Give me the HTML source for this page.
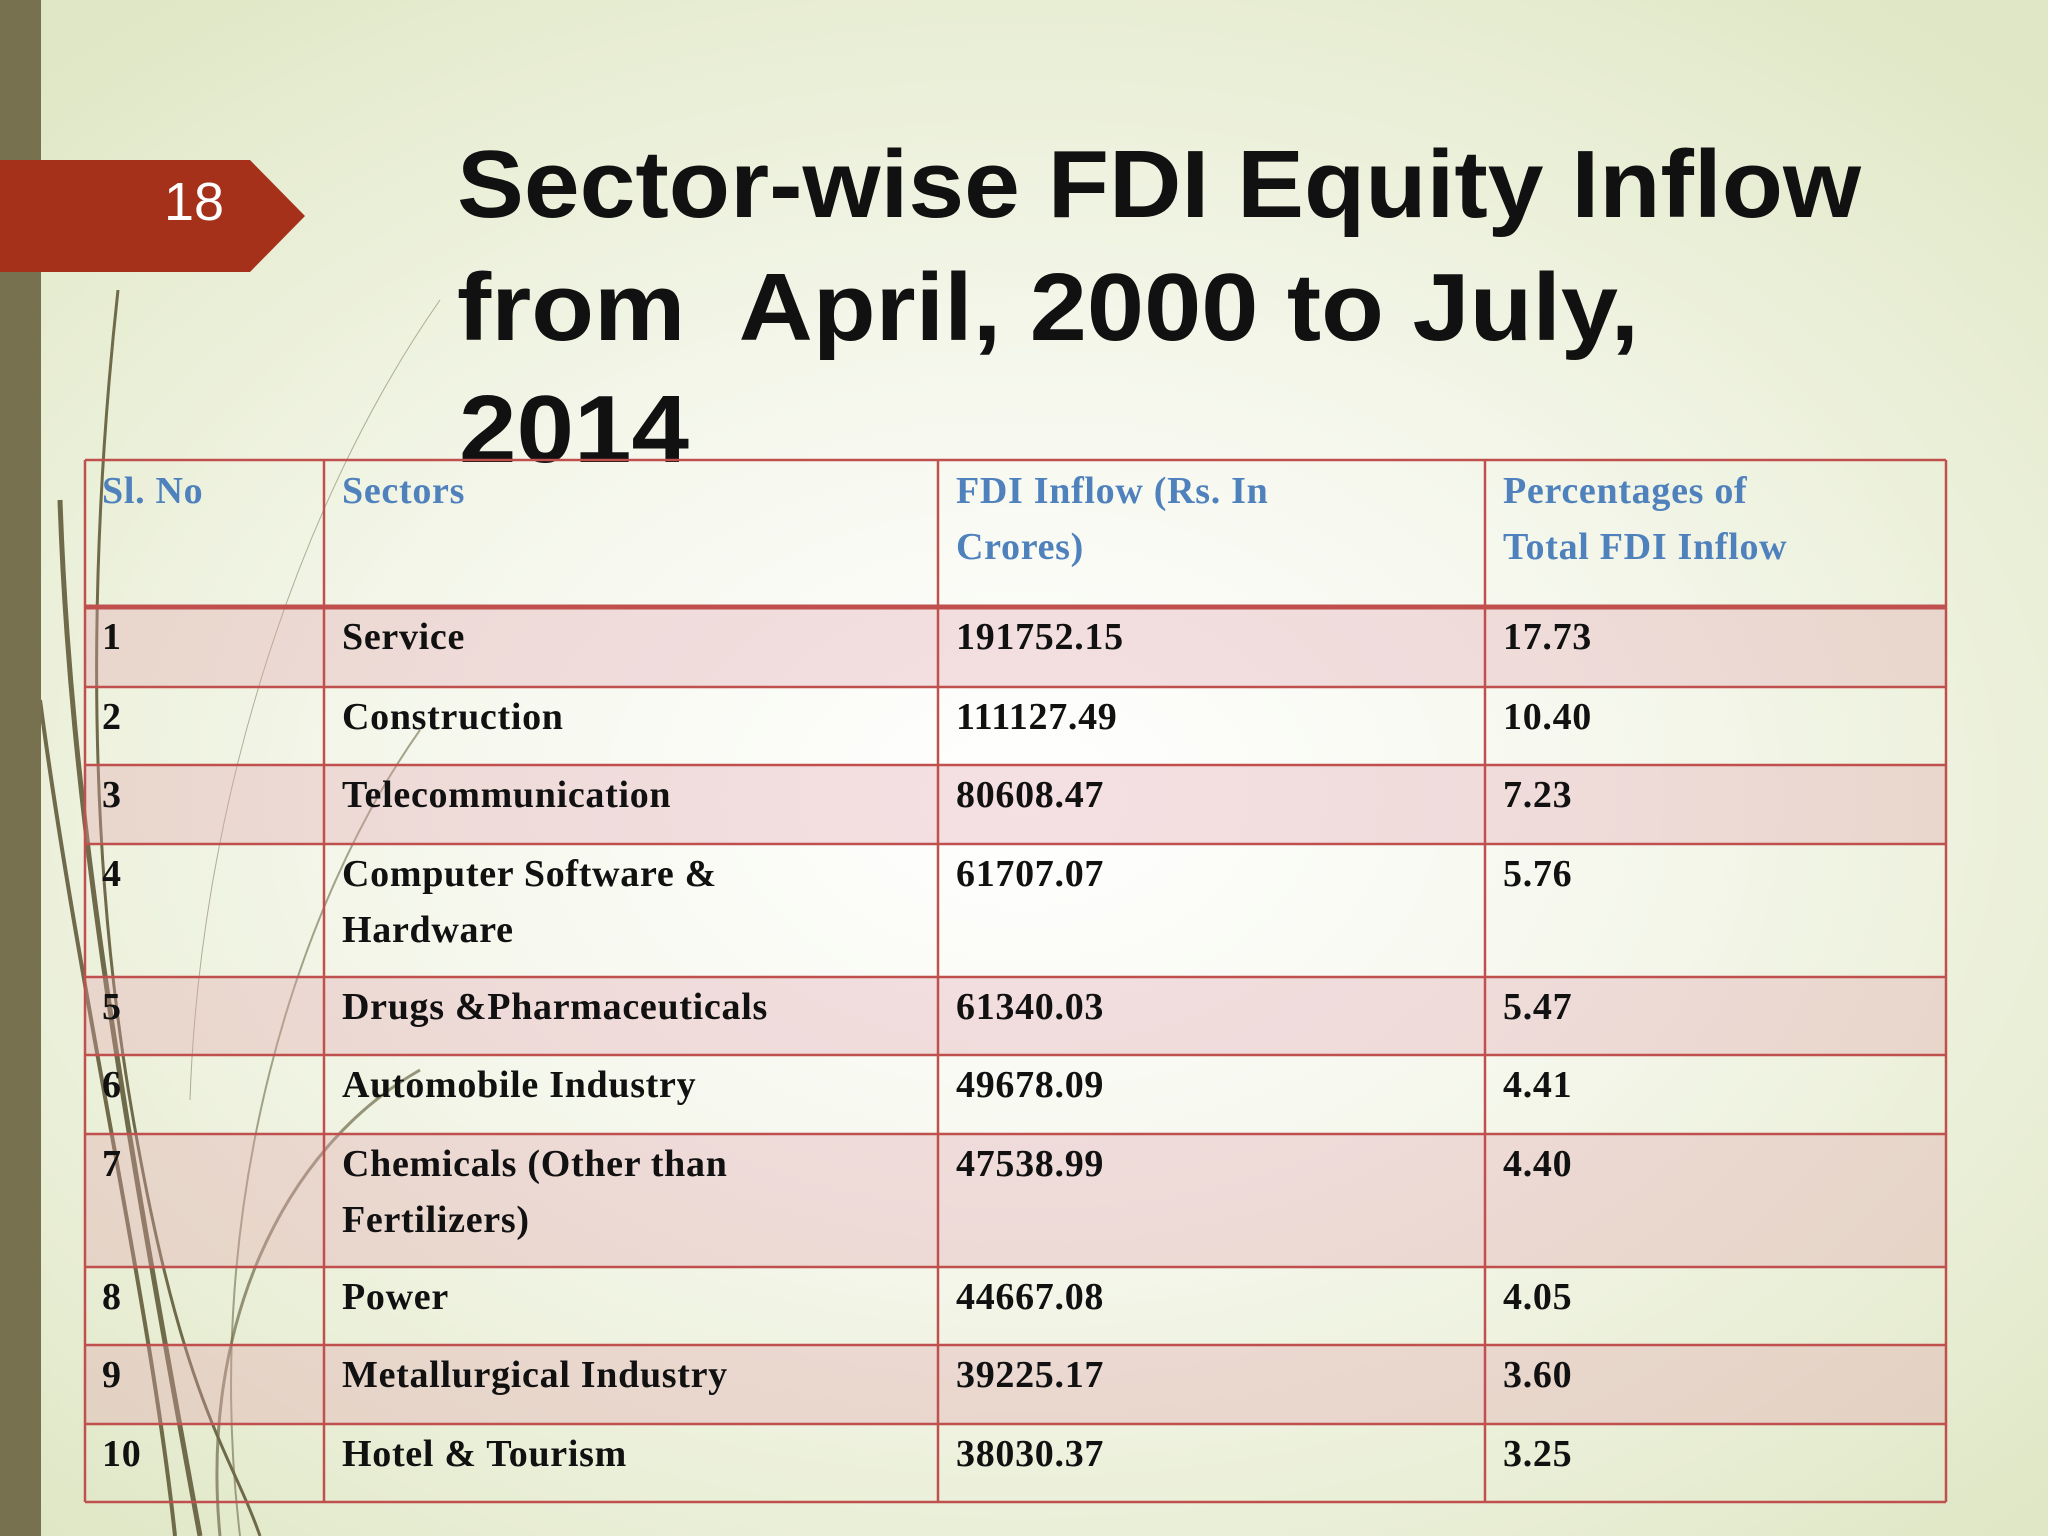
<!DOCTYPE html>
<html><head><meta charset="utf-8">
<style>
html,body{margin:0;padding:0;}
body{width:2048px;height:1536px;overflow:hidden;position:relative;
background:radial-gradient(ellipse 70% 65% at 50% 52%, #ffffff 0%, #f6f8ee 40%, #e6ecd0 85%, #dfe7c6 100%);
font-family:"Liberation Serif",serif;}
svg{position:absolute;left:0;top:0;}
</style></head>
<body>
<svg width="2048" height="1536" viewBox="0 0 2048 1536">
  <g fill="none" stroke="#6e6a4a">
    <path d="M118 290 C 95 500, 80 800, 130 1100 S 230 1450, 260 1536" stroke-width="3"/>
    <path d="M60 500 C 70 800, 120 1100, 200 1536" stroke-width="5"/>
    <path d="M40 700 C 80 1000, 150 1300, 175 1536" stroke-width="4"/>
    <path d="M420 1070 C 280 1150, 200 1330, 220 1536" stroke-width="3" opacity="0.7"/>
    <path d="M440 300 C 300 500, 200 800, 190 1100" stroke-width="1" opacity="0.5"/>
    <path d="M420 730 C 300 900, 200 1200, 240 1536" stroke-width="2" opacity="0.6"/>
  </g>
  <rect x="0" y="0" width="41" height="1536" fill="#77714f"/>
  <path d="M0 160 H250 L305 216 L250 272 H0 Z" fill="#a5311a"/>
  <text x="194" y="220" text-anchor="middle" fill="#fff" font-family="Liberation Sans, sans-serif" font-size="54">18</text>

  <g font-family="Liberation Sans, sans-serif" font-weight="bold" font-size="96" fill="#111">
    <text x="457" y="217" textLength="1404" lengthAdjust="spacingAndGlyphs">Sector-wise FDI Equity Inflow</text>
    <text x="457" y="340" textLength="1182" lengthAdjust="spacingAndGlyphs" xml:space="preserve">from  April, 2000 to July,</text>
    <text x="459" y="462" textLength="230" lengthAdjust="spacingAndGlyphs">2014</text>
  </g>

  <g id="table"></g>
</svg>
<script>
const slNos = ["1","2","3","4","5","6","7","8","9","10"];
const sectors = [["Service"],["Construction"],["Telecommunication"],["Computer Software &","Hardware"],["Drugs &Pharmaceuticals"],["Automobile Industry"],["Chemicals (Other than","Fertilizers)"],["Power"],["Metallurgical Industry"],["Hotel & Tourism"]];
const inflows = ["191752.15","111127.49","80608.47","61707.07","61340.03","49678.09","47538.99","44667.08","39225.17","38030.37"];
const percents = ["17.73","10.40","7.23","5.76","5.47","4.41","4.40","4.05","3.60","3.25"];
const NS="http://www.w3.org/2000/svg";
const g=document.getElementById('table');
const colX=[85,324,938,1485,1946];
const textX=[102,342,956,1503];
const rowLines=[460,607,687,765,844,977,1055,1134,1267,1345,1424,1502];
function mk(tag,attrs){const e=document.createElementNS(NS,tag);for(const k in attrs)e.setAttribute(k,attrs[k]);return e;}
for(let i=0;i<10;i++){
  if(i%2===0){
    const r=mk('rect',{x:colX[0],y:rowLines[i+1],width:colX[4]-colX[0],height:rowLines[i+2]-rowLines[i+1],fill:'rgba(225,160,170,0.32)'});
    
    
    g.appendChild(r);
  }
}
function addText(x,y,lines,fill,name){
  lines.forEach((ln,j)=>{
    const t=mk('text',{x:x,y:y+j*56,fill:fill,'font-size':38,'letter-spacing':0.7,'font-weight':'bold','font-family':'Liberation Serif, serif'});
    t.textContent=ln;
    
    
    g.appendChild(t);
  });
}
const hdr=[["Sl. No"],["Sectors"],["FDI Inflow (Rs. In","Crores)"],["Percentages of","Total FDI Inflow"]];
hdr.forEach((h,c)=>addText(textX[c],503,h,'#4f81bd','header-'+c));
for(let i=0;i<10;i++){
  const y=rowLines[i+1]+42;
  addText(textX[0],y,[slNos[i]],'#111','sl-no-'+(i+1));
  addText(textX[1],y,sectors[i],'#111','sector-'+(i+1));
  addText(textX[2],y,[inflows[i]],'#111','inflow-'+(i+1));
  addText(textX[3],y,[percents[i]],'#111','percent-'+(i+1));
}
rowLines.forEach((y,i)=>{
  const l=mk('line',{x1:colX[0],x2:colX[4],y1:y,y2:y,stroke:'#c0504d','stroke-width':i===1?5:2.5});
  
  
  g.appendChild(l);
});
colX.forEach(x=>{
  const l=mk('line',{x1:x,x2:x,y1:rowLines[0],y2:rowLines[rowLines.length-1],stroke:'#c0504d','stroke-width':2.5});
  
  
  g.appendChild(l);
});
</script>
</body></html>
